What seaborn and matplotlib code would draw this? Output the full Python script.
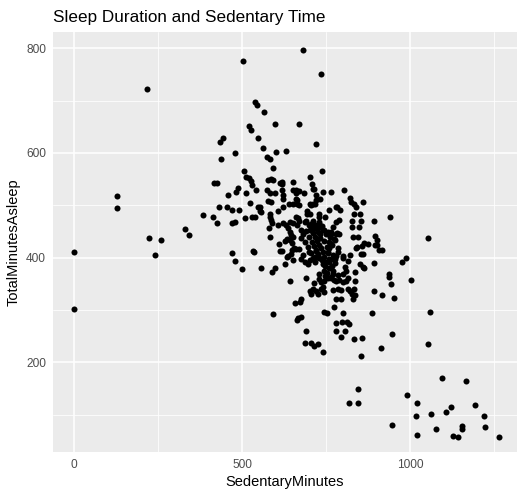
import pandas as pd
import matplotlib.pyplot as plt
import seaborn as sns

# ── Data ────────────────────────────────────────────────────
sedentary_minutes = [
    # sparse left side
    0, 0, 128, 128, 218, 224, 242, 260, 331, 343, 383,
    # upper part
    504, 683, 734, 539, 545, 565, 598, 671, 521, 527, 436, 444, 548, 719,
    479, 562, 438, 601, 631, 574, 583, 592, 506, 737, 702, 511, 521, 527,
    418, 426, 578, 585, 592, 619, 651, 612, 620, 529, 707, 710, 714, 488,
    483, 543, 575, 582, 598, 618, 622, 622, 660, 671, 685, 459, 512, 721,
    731, 742, 765, 803, 653, 661, 661, 663, 780, 578, 587, 664, 525, 432,
    456, 469, 492, 622, 640, 651, 669, 711, 716, 721, 701, 706, 414, 548,
    553, 531, 538, 582, 584, 608, 661, 667, 701, 728, 728, 758, 508, 820,
    823, 832, 839, 859, 782, 792, 693, 693, 834, 851, 748, 553, 558,
    # middle band
    426, 469, 478, 582, 585, 590, 606, 622, 630, 637, 642, 647, 651, 663,
    610, 627, 634, 644, 650, 654, 612, 620, 637, 647, 661, 470, 533, 536,
    479, 501, 558, 589, 598, 627, 634, 651, 644, 580, 669, 686, 642, 651,
    780, 788, 826, 854, 892, 941, 676, 691, 703, 716, 730, 738, 745, 755,
    765, 828, 847, 782, 790, 829, 844, 897, 901, 864, 874, 839, 903, 909,
    917, 800, 822, 854, 859, 681, 669, 650,
    676, 686, 696, 701, 706, 719, 726, 716, 740, 748, 760, 770, 780, 785,
    755, 691, 713, 728, 730, 735, 745, 755, 765, 775, 701, 711, 721, 735,
    745, 706, 726, 676, 673, 659, 780, 785, 592, 666, 676, 745, 752,
    # right of the dense cluster
    841, 857, 897, 765, 778, 778, 800, 815, 851, 859, 862, 892, 987, 975,
    768, 770, 805, 810, 770, 785, 800, 765, 780, 790, 808, 815, 800, 837,
    837, 936, 936, 1002, 942, 770, 795, 815, 822, 828, 834, 837, 831, 795,
    894, 917, 951, 773, 800, 886, 1058, 1052,
    # dense cluster
    690, 700, 705, 712, 718, 722, 728, 735, 740, 745, 700, 708, 715, 720,
    725, 730, 738, 748, 752, 758, 762, 765, 770, 750, 742, 735, 728, 718,
    712, 725, 732, 745, 755, 760, 768, 775, 780, 785, 772, 695, 688, 682,
    676, 698, 710, 716, 760, 778, 745, 748, 742, 760, 752, 733, 722, 705,
    # lower part
    664, 689, 686, 704, 713, 725, 740, 779, 799, 811, 817, 781, 805, 796,
    832, 856, 853, 915, 844, 817, 844, 945, 1052, 1094, 1165, 990, 1020,
    1017, 1061, 1106, 1121, 1192, 1219, 945, 1020, 1076, 1127, 1142, 1153,
    1153, 1222, 1264,
]

total_minutes_asleep = [
    # sparse left side
    302, 411, 517, 494, 723, 438, 406, 433, 455, 444, 482,
    # upper part
    775, 796, 750, 697, 691, 678, 656, 656, 651, 643, 621, 629, 629, 618,
    599, 610, 589, 601, 603, 593, 589, 572, 566, 565, 555, 555, 553, 547,
    542, 542, 549, 551, 548, 544, 544, 543, 540, 538, 540, 532, 532, 534,
    526, 530, 529, 523, 524, 529, 519, 513, 530, 528, 524, 520, 523, 519,
    513, 526, 526, 530, 529, 523, 513, 503, 497, 508, 506, 511, 505, 497,
    497, 492, 491, 497, 503, 503, 500, 503, 503, 511, 503, 500, 478, 496,
    489, 478, 477, 484, 477, 489, 478, 476, 484, 484, 477, 492, 475, 514,
    507, 502, 496, 507, 497, 492, 489, 483, 483, 484, 477, 497, 487,
    # middle band
    466, 466, 468, 440, 472, 467, 463, 467, 463, 456, 450, 443, 439, 463,
    427, 431, 436, 434, 428, 419, 413, 413, 404, 407, 417, 409, 412, 410,
    393, 379, 381, 373, 381, 388, 401, 395, 356, 456, 471, 468, 468, 466,
    468, 472, 470, 470, 470, 477, 452, 451, 452, 456, 459, 460, 452, 449,
    446, 459, 459, 447, 445, 439, 440, 441, 434, 428, 427, 419, 424, 415,
    415, 404, 405, 407, 407, 405, 417, 414,
    398, 392, 388, 395, 409, 412, 404, 401, 388, 385, 391, 398, 404, 411,
    409, 361, 351, 369, 359, 353, 356, 361, 364, 358, 337, 340, 337, 340,
    335, 330, 330, 322, 315, 313, 322, 340, 292, 284, 286, 297, 295,
    # right of the dense cluster
    420, 423, 425, 426, 433, 397, 399, 393, 388, 382, 380, 390, 400, 392,
    385, 375, 382, 375, 369, 367, 369, 361, 356, 358, 355, 361, 353, 372,
    355, 369, 363, 358, 350, 339, 339, 341, 336, 331, 341, 328, 322, 322,
    336, 329, 323, 305, 294, 295, 296, 438,
    # dense cluster
    470, 462, 455, 448, 440, 432, 425, 418, 410, 402, 440, 430, 422, 415,
    408, 400, 395, 392, 420, 430, 440, 450, 458, 445, 452, 460, 468, 462,
    470, 450, 438, 432, 410, 418, 425, 435, 445, 418, 405, 420, 430, 445,
    438, 410, 400, 392, 398, 390, 375, 365, 345, 380, 370, 445, 455, 465,
    # lower part
    281, 260, 237, 237, 231, 235, 219, 275, 277, 277, 273, 260, 260, 248,
    245, 247, 212, 227, 150, 123, 123, 254, 235, 171, 165, 137, 123,
    98, 102, 106, 115, 119, 98, 81, 62, 73, 60, 58, 79,
    73, 77, 58,
]

df = pd.DataFrame({'SedentaryMinutes': sedentary_minutes,
                   'TotalMinutesAsleep': total_minutes_asleep})

x_major = [0, 500, 1000]
x_minor = [250, 750, 1250]
y_major = [200, 400, 600, 800]
y_minor = [100, 300, 500, 700]

# ── ggplot-like gray theme ──────────────────────────────────
sns.set_style('darkgrid', {'axes.facecolor': '#EBEBEB', 'grid.color': 'white'})
plt.rcParams['font.family'] = ['Liberation Sans', 'DejaVu Sans']

fig = plt.figure(figsize=(5.27, 5.01), dpi=100)
ax = fig.add_axes([53 / 527, 1 - 452 / 501, 464 / 527, 420 / 501])

sns.scatterplot(data=df, x='SedentaryMinutes', y='TotalMinutesAsleep',
                color='black', s=19, linewidth=0, ax=ax, zorder=3)

ax.set_xlim(-62, 1318)
ax.set_ylim(29, 831)
ax.set_xticks(x_major)
ax.set_xticks(x_minor, minor=True)
ax.set_yticks(y_major)
ax.set_yticks(y_minor, minor=True)
ax.grid(which='major', color='white', linewidth=1.1)
ax.grid(which='minor', color='white', linewidth=0.55)
ax.set_axisbelow(True)
for spine in ax.spines.values():
    spine.set_visible(False)

ax.tick_params(axis='both', which='major', length=3, width=0.8,
               color='#333333', labelcolor='#4D4D4D', labelsize=8.6, pad=2)
ax.tick_params(axis='both', which='minor', length=0)

ax.set_xlabel('SedentaryMinutes', fontsize=10.5, color='black', labelpad=3)
ax.set_ylabel('TotalMinutesAsleep', fontsize=10.5, color='black', labelpad=4)
ax.set_title('Sleep Duration and Sedentary Time', fontsize=12.3,
             loc='left', pad=7, color='black')

plt.savefig('out.png', dpi=100)
plt.close()
